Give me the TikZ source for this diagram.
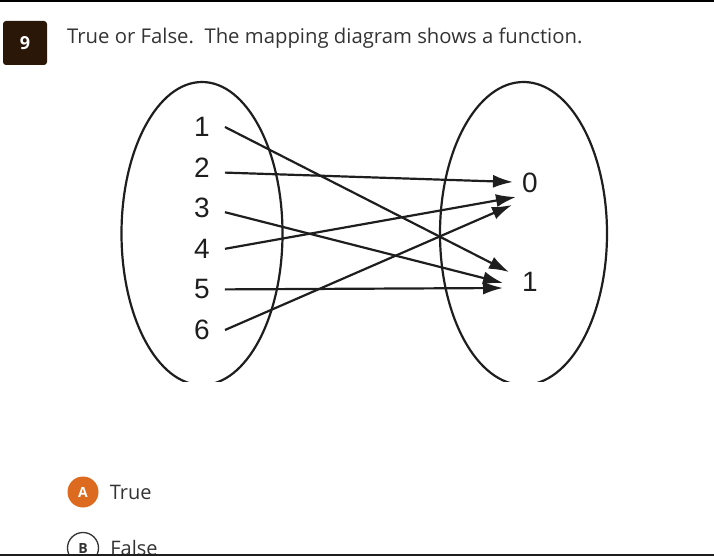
\documentclass[tikz,border=0pt]{standalone}
\usepackage{fontspec}
\setmainfont{Open Sans}
\newfontfamily\arial{Liberation Sans}
\usetikzlibrary{positioning,arrows.meta}
\definecolor{qbox}{HTML}{2B1708}
\definecolor{qorange}{HTML}{DD6B1F}
\definecolor{ink}{HTML}{1E1E1E}
\definecolor{txt}{HTML}{333333}

\begin{document}
\begin{tikzpicture}[x=1pt,y=-1pt,
        num/.style={font=\arial\fontsize{28}{28}\selectfont,text=ink,inner xsep=15pt,inner ysep=0pt},
        set/.style={draw=ink,line width=2.2pt},
        badge/.style={circle,minimum size=31pt,inner sep=0pt,font=\bfseries\fontsize{14}{14}\selectfont},
        opt/.style={font=\fontsize{20}{20}\selectfont,text=txt,inner sep=0pt},
        >={Latex[length=20pt,width=13pt]}]
            \useasboundingbox (0,0) rectangle (714,556);
            \draw[line width=2pt] (0,1) -- (714,1);
            \node[fill=qbox,rounded corners=3pt,minimum size=44pt,text=white,font=\bfseries\fontsize{18}{18}\selectfont] (qnum) at (25,43) {9};
            \node[anchor=west,font=\fontsize{20.3}{20.3}\selectfont,text=txt,inner sep=0pt] (title) at (67,38) {True or False.\ \ The mapping diagram shows a function.};
            % the two sets
            \begin{scope}
                \clip (0,60) rectangle (714,381);
                \draw[set] (202,233.5) ellipse [x radius=80.5, y radius=151.5];
                \draw[set] (523.5,233.5) ellipse [x radius=83.5, y radius=151.5];
            \end{scope}
            \node[num] (l_1) at (202,127) {1};
            \node[num,on grid] (l_2) [below=40.6pt of l_1] {2};
            \node[num,on grid] (l_3) [below=40.6pt of l_2] {3};
            \node[num,on grid] (l_4) [below=40.6pt of l_3] {4};
            \node[num,on grid] (l_5) [below=40.6pt of l_4] {5};
            \node[num,on grid] (l_6) [below=40.6pt of l_5] {6};
            \node[num] (r_0) at (530,183) {0};
            \node[num,on grid] (r_1) [below=99pt of r_0] {1};
            \coordinate (t_1) at (509,272);
            \coordinate (t_2) at (513,182);
            \coordinate (t_3) at (503,283);
            \coordinate (t_4) at (516,197);
            \coordinate (t_5) at (503,288);
            \coordinate (t_6) at (512,205);
            \path[->,color=ink,line width=2.2pt]
                (l_1.east) edge (t_1)
                ([yshift=-5pt]l_2.east) edge (t_2)
                ([yshift=-4pt]l_3.east) edge (t_3)
                (l_4.east) edge (t_4)
                (l_5.east) edge (t_5)
                (l_6.east) edge (t_6);
            % answer choices
            \begin{scope}
                \clip (0,460) rectangle (714,553);
                \node[badge,fill=qorange,text=white] (opt_a) at (83,492) {A};
                \node[opt] (lbl_a) [right=11pt of opt_a] {True};
                \node[badge,draw=txt,line width=1.3pt,text=txt] (opt_b) at (83,548) {B};
                \node[opt] (lbl_b) [right=11pt of opt_b] {False};
            \end{scope}
            \draw[line width=2pt,draw=ink] (0,554.5) -- (714,554.5);
        \end{tikzpicture}
\end{document}
